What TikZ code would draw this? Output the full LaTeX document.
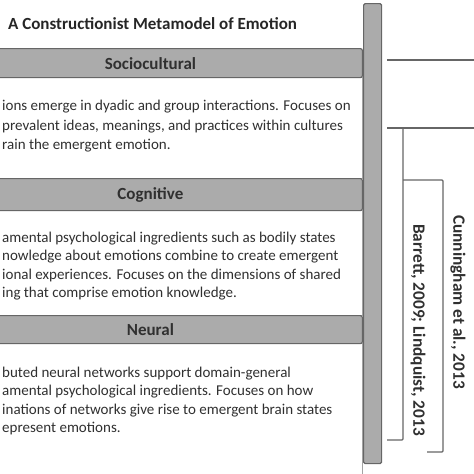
\documentclass[tikz,border=0pt]{standalone}
\usepackage{fontspec}
\setmainfont{Carlito}
\usetikzlibrary{positioning}
\definecolor{bargray}{HTML}{ABABAB}
\definecolor{edgegray}{HTML}{666666}
\definecolor{inkgray}{HTML}{303030}

\begin{document}
\begin{tikzpicture}[x=1pt, y=-1pt, every node/.style={text=inkgray},
 header/.style={draw=edgegray, fill=bargray, line width=1.2pt, minimum width=424pt, minimum height=29pt, anchor=north east, inner sep=0pt, font=\fontsize{17}{19}\selectfont\bfseries, rounded corners=2pt},
 body/.style={draw=edgegray!60, fill=white, line width=0.8pt, minimum width=424pt, anchor=north east, inner sep=0pt},
 para/.style={anchor=north west, align=left, inner sep=0pt, font=\fontsize{15}{18.3}\selectfont},
 cite/.style={rotate=-90, font=\fontsize{17.3}{19}\selectfont\bfseries, inner sep=0pt},
 bracket/.style={draw=edgegray, line width=1.3pt, rounded corners=1pt}]
\useasboundingbox (0,0) rectangle (474,474);

% levels of the model
\node[body, minimum height=101pt] (socbody) at (363,77) {};
\node[body, minimum height=105pt] (cogbody) at (363,210) {};
\node[body, minimum height=140pt] (neubody) at (363,343) {};
\node[header] (soc) at (363,48) {Sociocultural};
\node[header, minimum height=32pt] (cog) at (363,178) {Cognitive};
\node[header, minimum height=28pt] (neu) at (363,315) {Neural};

\node[para, font=\fontsize{15}{19.5}\selectfont] (soctext) at (2,100) {ions emerge in dyadic and group interactions. Focuses on\\
prevalent ideas, meanings, and practices within cultures\\
rain the emergent emotion.};
\node[para] (cogtext) at (2,232) {amental psychological ingredients such as bodily states\\
nowledge about emotions combine to create emergent\\
ional experiences. Focuses on the dimensions of shared\\
ing that comprise emotion knowledge.};
\node[para] (neutext) at (2,367) {buted neural networks support domain-general\\
amental psychological ingredients. Focuses on how\\
inations of networks give rise to emergent brain states\\
epresent emotions.};

\node[anchor=west, inner sep=0pt, text=black!85, font=\fontsize{17}{19}\selectfont\bfseries] (title) at (8,24) {A Constructionist Metamodel of Emotion};

% spine
\node[draw=edgegray, fill=bargray, line width=1.2pt, minimum width=18pt, minimum height=460pt, anchor=north west, inner sep=0pt, rounded corners=1.5pt] (spine) at (363,3) {};

% citation brackets
\coordinate (t1) at (387,60);
\coordinate (u1) at (474,60);
\coordinate (t2) at (387,128);
\coordinate (u2) at (474,128);
\coordinate (j2) at (403,128);
\coordinate (b2) at (387,440);
\coordinate (j3) at (403,180);
\coordinate (b3) at (427,452);
\draw[bracket] (t1) -- (u1);
\draw[bracket] (t2) -- (u2);
\draw[bracket] (j2) |- (b2);
\draw[bracket] (j3) -| (443,452) -- (b3);

\node[cite] (barrett) at (418,330) {Barrett, 2009; Lindquist, 2013};
\node[cite] (cunning) at (458,302) {Cunningham et al., 2013};
\end{tikzpicture}
\end{document}
